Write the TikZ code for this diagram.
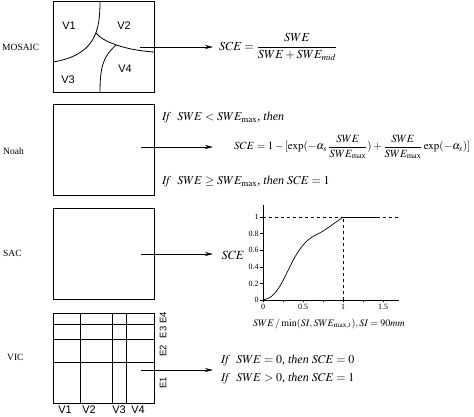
\documentclass[tikz,border=0pt]{standalone}
\usepackage{mathptmx}
\usepackage{fontspec}
\setmainfont{Liberation Serif}
\newfontfamily\arialf{Liberation Sans}
\usetikzlibrary{arrows.meta}
\begin{document}
\begin{tikzpicture}[x=1pt,y=-1pt,
  box/.style={draw, line width=0.8pt, inner sep=0pt, minimum width=101pt},
  conn/.style={-{Stealth[length=8pt,width=4pt]}, line width=0.6pt},
  grid line/.style={line width=0.7pt},
  divider/.style={line width=0.8pt},
  mlabel/.style={anchor=west, font=\fontsize{9.5}{11}\selectfont, inner sep=0pt},
  vlab/.style={font=\arialf\fontsize{11}{13}\selectfont, inner sep=0pt},
  elab/.style={font=\arialf\fontsize{9.5}{11}\selectfont, inner sep=0pt, rotate=90},
  eqA/.style={anchor=west, inner sep=0pt, font=\fontsize{12.3}{15}\selectfont},
  eqB/.style={anchor=west, inner sep=0pt, font=\fontsize{12}{14}\selectfont},
  eqN/.style={anchor=west, inner sep=0pt, font=\fontsize{11}{14}\selectfont},
  eqC/.style={anchor=west, inner sep=0pt, font=\fontsize{12}{14}\selectfont},
  tlab/.style={inner sep=0pt, font=\fontsize{8}{9}\selectfont}
]
\useasboundingbox (0,0) rectangle (474,416);

% ---------- MOSAIC ----------
\node[box, minimum height=91pt] (mosaic) at (103.5,46.5) {};
\node[mlabel] (mosaicL) at (2,47) {MOSAIC};
\draw[divider] (100,1) .. controls (100,30) and (96,55) .. (53,62);
\draw[divider] (96,33) .. controls (103,42) and (125,50) .. (154,52);
\draw[divider] (116,45) .. controls (104,56) and (100,65) .. (100,92);
\node[vlab] (v1m) at (69,26) {V1};
\node[vlab] (v2m) at (124,26) {V2};
\node[vlab] (v3m) at (68,80) {V3};
\node[vlab] (v4m) at (125,69) {V4};
\coordinate (mosaicS) at (140,47);
\coordinate (mosaicT) at (213,47);
\draw[conn] (mosaicS) -- (mosaicT);
\node[eqA] (mosaicEq) at (219,47) {$\displaystyle SCE=\frac{SWE}{SWE+SWE_{mid}}$};

% ---------- Noah ----------
\node[box, minimum height=91pt] (noah) at (103.5,149.5) {};
\node[mlabel] (noahL) at (3,151) {Noah};
\coordinate (noahS) at (141,147);
\coordinate (noahT) at (213,147);
\draw[conn] (noahS) -- (noahT);
\node[eqB] (noahEq1) at (162,118) {$\mathit{If}\ \ SWE<SWE_{\max}$, \textit{then}};
\node[eqN] (noahEq2) at (234,147) {$\displaystyle SCE=1-[\exp(-\alpha_s\,\frac{SWE}{SWE_{\max}})+\frac{SWE}{SWE_{\max}}\exp(-\alpha_s)]$};
\node[eqB] (noahEq3) at (162,182) {$\mathit{If}\ \ SWE\ge SWE_{\max}$, \textit{then} $SCE=1$};

% ---------- SAC ----------
\node[box, minimum height=91pt] (sac) at (103.5,253.5) {};
\node[mlabel] (sacL) at (3,253) {SAC};
\coordinate (sacS) at (141,254);
\coordinate (sacT) at (213,254);
\draw[conn] (sacS) -- (sacT);
\node[inner sep=0pt, font=\fontsize{12.5}{14}\selectfont] (sce) at (233,255) {$SCE$};
\begin{scope}[shift={(263pt,-300pt)}, x=80pt, y=83pt, line width=0.6pt]
  \draw (0,0) -- (1.7,0);
  \draw (0,0) -- (0,1.15);
  \draw[dashed] (0,1) -- (1.7,1);
  \draw[dashed] (1,0) -- (1,1);
  \draw (1,1) -- (1.46,1);
  \draw[line width=0.7pt] plot[smooth, tension=0.6] coordinates {(0,0) (0.1,0.04) (0.2,0.15) (0.3,0.33) (0.4,0.52) (0.5,0.66) (0.6,0.75) (0.75,0.83) (0.9,0.93) (1,1)};
  \foreach \v in {0,0.2,0.4,0.6,0.8,1} {
    \draw (-0.035,\v) -- (0,\v);
    \node[tlab, anchor=east] at (-0.05,\v) {\v};
  }
  \foreach \v in {0,0.5,1,1.5} {
    \draw (\v,0) -- (\v,-0.03);
    \node[tlab, anchor=north] at (\v,-0.05) {\v};
  }
  \foreach \v in {0.25,0.75,1.25} {
    \draw (\v,0) -- (\v,-0.02);
  }
\end{scope}
\node[inner sep=0pt, font=\fontsize{10}{12}\selectfont] (sacX) at (329,324) {$SWE\,/\min(SI,SWE_{\max,t}),SI=90mm$};

% ---------- VIC ----------
\node[box, minimum height=90pt] (vic) at (103.5,358) {};
\node[mlabel] (vicL) at (7,357) {VIC};
\draw[grid line] (80,313) -- (80,403);
\draw[grid line] (112,313) -- (112,403);
\draw[grid line] (126,313) -- (126,403);
\draw[grid line] (53,324) -- (154,324);
\draw[grid line] (53,339) -- (154,339);
\draw[grid line] (53,362) -- (154,362);
\node[elab] (e4) at (163,318) {E4};
\node[elab] (e3) at (163,332.5) {E3};
\node[elab] (e2) at (163,351) {E2};
\node[elab] (e1) at (163,383) {E1};
\node[vlab] (v1v) at (65,410) {V1};
\node[vlab] (v2v) at (89,410) {V2};
\node[vlab] (v3v) at (119,410) {V3};
\node[vlab] (v4v) at (138,410) {V4};
\coordinate (vicS) at (141,370);
\coordinate (vicT) at (213,370);
\draw[conn] (vicS) -- (vicT);
\node[eqC] (vicEq1) at (221,361) {$\mathit{If}\ \ SWE=0$, \textit{then} $SCE=0$};
\node[eqC] (vicEq2) at (221,379) {$\mathit{If}\ \ SWE>0$, \textit{then} $SCE=1$};
\end{tikzpicture}
\end{document}
